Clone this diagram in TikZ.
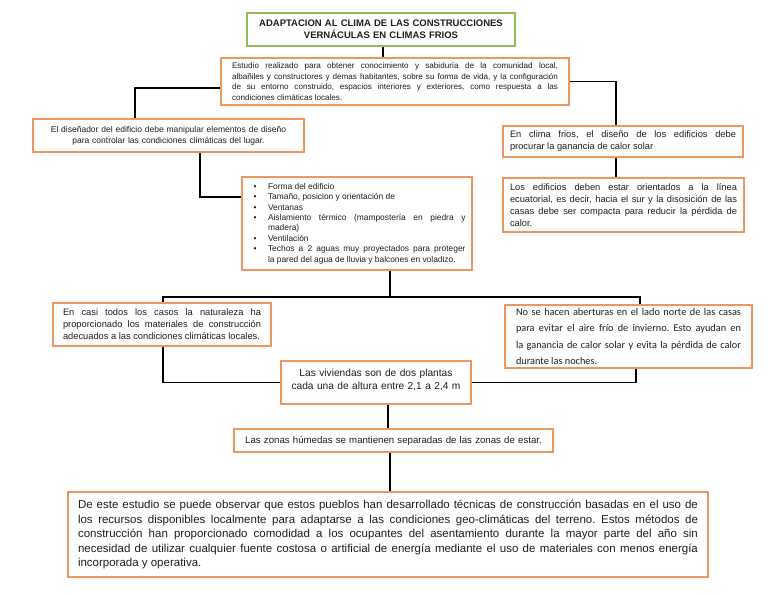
\documentclass[tikz,border=0pt]{standalone}
\usepackage{fontspec}
\setmainfont{Liberation Sans}
\newfontfamily\calib{Carlito}
\usetikzlibrary{calc}
\definecolor{ob}{RGB}{240,150,95}
\definecolor{gb}{RGB}{150,185,90}
\definecolor{tx}{RGB}{30,30,30}
\frenchspacing
\newcommand{\jl}[1]{\makebox[\linewidth][s]{\spaceskip=0pt\xspaceskip=0pt #1}}
\newcommand{\bitem}{\makebox[19.5pt][l]{\hspace{5pt}\textbullet}}
\newcommand{\bjl}[1]{\makebox[\dimexpr\linewidth-19.5pt\relax][s]{\spaceskip=0pt\xspaceskip=0pt #1}}
\begin{document}
\begin{tikzpicture}[x=1pt,y=-1pt,
  box/.style={draw=ob, line width=1.1pt, fill=white, text=tx, inner ysep=0pt, align=justify},
  conn/.style={draw=black, line width=1.6pt}]
\fill[white] (0,0) rectangle (768,594);
\useasboundingbox (0,0) rectangle (768,594);

\node[box, draw=gb, text width=260pt, inner xsep=4pt, minimum height=33pt, align=center,
  font=\fontsize{9.5}{12}\selectfont\bfseries] (title) at (381,29.5)
  {ADAPTACION AL CLIMA DE LAS CONSTRUCCIONES\\VERNÁCULAS EN CLIMAS FRIOS};

\node[box, text width=326pt, inner xsep=11pt, minimum height=47pt,
  font=\fontsize{8.1}{10.7}\selectfont] (estudio) at (395,81.5)
  {\jl{Estudio realizado para obtener conocimiento y sabiduría de la comunidad local,}\\
   \jl{albañiles y constructores y demas habitantes, sobre su forma de vida, y la configuración}\\
   \jl{de su entorno construido, espacios interiores y exteriores, como respuesta a las}\\
   condiciones climáticas locales.};

\node[box, text width=259pt, inner xsep=6pt, minimum height=33pt, align=center,
  font=\fontsize{8.5}{11}\selectfont] (dis) at (168.5,135.5)
  {El diseñador del edificio debe manipular elementos de diseño\\para controlar las condiciones climáticas del lugar.};

\node[box, text width=226pt, inner xsep=7pt, minimum height=31pt,
  font=\fontsize{9.3}{12}\selectfont] (clima) at (623,141.5)
  {\jl{En clima frios, el diseño de los edificios debe}\\procurar la ganancia de calor solar};

\node[box, text width=227pt, inner xsep=7pt, minimum height=54pt,
  font=\fontsize{9.3}{12}\selectfont] (edif) at (623.5,205)
  {\jl{Los edificios deben estar orientados a la línea}\\
   \jl{ecuatorial, es decir, hacia el sur y la disosición de las}\\
   \jl{casas debe ser compacta para reducir la pérdida de}\\
   calor.};

\node[box, text width=217pt, inner xsep=6.5pt, minimum height=93pt,
  font=\fontsize{8.4}{10.4}\selectfont] (bul) at (357,223.5)
  {\bitem Forma del edificio\\
   \bitem Tamaño, posicion y orientación de\\
   \bitem Ventanas\\
   \bitem\bjl{Aislamiento térmico (mampostería en piedra y}\\
   \hspace*{19.5pt}madera)\\
   \bitem Ventilación\\
   \bitem\bjl{Techos a 2 aguas muy proyectados para proteger}\\
   \hspace*{19.5pt}la pared del agua de lluvia y balcones en voladizo.};

\node[box, text width=198pt, inner xsep=10pt, minimum height=43pt,
  font=\fontsize{9.3}{12}\selectfont] (casi) at (162,324.5)
  {\jl{En casi todos los casos la naturaleza ha}\\
   \jl{proporcionado los materiales de construcción}\\
   adecuados a las condiciones climáticas locales.};

\node[box, text width=225pt, inner xsep=11pt, minimum height=63pt,
  font=\calib\fontsize{10.3}{16.3}\selectfont] (nose) at (628.5,336.5)
  {\jl{No se hacen aberturas en el lado norte de las casas}\\
   \jl{para evitar el aire frío de invierno. Esto ayudan en}\\
   \jl{la ganancia de calor solar y evita la pérdida de calor}\\
   durante las noches.};

\node[box, text width=178pt, inner xsep=6pt, minimum height=43pt, align=center,
  font=\fontsize{10.2}{12.5}\selectfont] (viv) at (376,382.5)
  {Las viviendas son de dos plantas\\cada una de altura entre 2,1 a 2,4 m\\[-6pt]\mbox{}};

\node[box, text width=307pt, inner xsep=6pt, minimum height=23pt, align=center,
  font=\fontsize{9.65}{12}\selectfont] (zonas) at (393.5,440.5)
  {Las zonas húmedas se mantienen separadas de las zonas de estar.};

\node[box, text width=620pt, inner xsep=10pt, minimum height=85pt,
  font=\fontsize{11.5}{14.5}\selectfont] (final) at (388,534.5)
  {\jl{De este estudio se puede observar que estos pueblos han desarrollado técnicas de construcción basadas en el uso de}\\
   \jl{los recursos disponibles localmente para adaptarse a las condiciones geo-climáticas del terreno. Estos métodos de}\\
   \jl{construcción han proporcionado comodidad a los ocupantes del asentamiento durante la mayor parte del año sin}\\
   \jl{necesidad de utilizar cualquier fuente costosa o artificial de energía mediante el uso de materiales con menos energía}\\
   incorporada y operativa.};

\coordinate (k1) at (383,0);
\coordinate (k2) at (135,88);
\coordinate (k3) at (616,0);
\coordinate (k4) at (200,197);
\coordinate (k5) at (390,297);
\coordinate (hL) at (163,297);
\coordinate (hR) at (640,297);
\coordinate (k6) at (163,383);
\coordinate (k7) at (636,383);
\coordinate (k8) at (388,0);
\coordinate (k9) at (390,0);

\draw[conn] (title.south -| k1) -- (estudio.north -| k1);
\draw[conn] (estudio.west |- k2) -| (dis.north -| k2);
\draw[conn] (estudio.east) -| (clima.north -| k3);
\draw[conn] (clima.south -| k3) -- (edif.north -| k3);
\draw[conn] (dis.south -| k4) |- (bul.west |- k4);
\draw[conn] (bul.south -| k5) -- (k5);
\draw[conn] (casi.north -| hL) -- (hL) -- (hR) -- (nose.north -| hR);
\draw[conn] (casi.south -| k6) |- (viv.west);
\draw[conn] (nose.south -| k7) |- (viv.east);
\draw[conn] (viv.south -| k8) -- (zonas.north -| k8);
\draw[conn] (zonas.south -| k9) -- (final.north -| k9);
\end{tikzpicture}
\end{document}
